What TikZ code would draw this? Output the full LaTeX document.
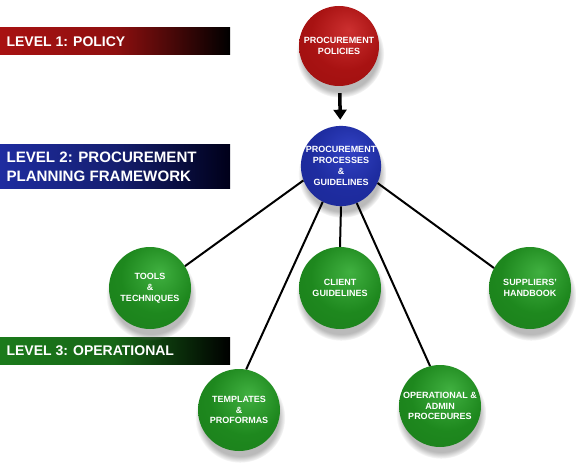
\documentclass[tikz,border=0pt]{standalone}
\usepackage{fontspec}
\setmainfont{Liberation Sans}
\usetikzlibrary{arrows.meta,shadows}
\definecolor{redC}{HTML}{CC3030}
\definecolor{redM}{HTML}{A81212}
\definecolor{redE}{HTML}{5A0000}
\definecolor{bluC}{HTML}{3242C4}
\definecolor{bluM}{HTML}{1E2CA0}
\definecolor{bluE}{HTML}{0C1258}
\definecolor{grnC}{HTML}{40B040}
\definecolor{grnM}{HTML}{1E881E}
\definecolor{grnE}{HTML}{0A400A}
\pgfdeclareradialshading{redball}{\pgfpoint{6bp}{10bp}}{color(0bp)=(redC); color(22bp)=(redM); color(50bp)=(redM!80!redE); color(62bp)=(redE); color(70bp)=(redE)}
\pgfdeclareradialshading{blueball}{\pgfpoint{6bp}{10bp}}{color(0bp)=(bluC); color(22bp)=(bluM); color(50bp)=(bluM!80!bluE); color(62bp)=(bluE); color(70bp)=(bluE)}
\pgfdeclareradialshading{greenball}{\pgfpoint{6bp}{10bp}}{color(0bp)=(grnC); color(22bp)=(grnM); color(50bp)=(grnM!80!grnE); color(62bp)=(grnE); color(70bp)=(grnE)}
\tikzset{
  sphere/.style={circle, minimum size=#1, inner sep=0pt, text=white,
    font=\bfseries\fontsize{9}{10.8}\selectfont, align=center,
    circular drop shadow={shadow xshift=1pt, shadow yshift=-7pt, opacity=0.45, fill=black!60}},
  redsph/.style={sphere=80pt, shading=redball},
  bluesph/.style={sphere=80pt, shading=blueball},
  greensph/.style={sphere=82pt, shading=greenball},
  bantext/.style={text=white, font=\bfseries\fontsize{14}{19}\selectfont, align=left, anchor=west},
  bantextb/.style={text=white, font=\bfseries\fontsize{15.1}{19}\selectfont, align=left, anchor=west},
  link/.style={line width=2pt, draw=black}
}
\begin{document}
\begin{tikzpicture}[x=1pt,y=-1pt]
\useasboundingbox[fill=white] (0,0) rectangle (576,468);
% banners
\shade[left color=redM, right color=black, middle color=redM!85!black] (0,28) rectangle (230,55);
\node[bantext] (l1) at (3,41.5) {LEVEL 1: POLICY};
\shade[left color=bluM, right color=black!90!blue, middle color=bluM!70!black] (0,145) rectangle (230,189);
\node[bantextb] (l2) at (3,167) {LEVEL 2: PROCUREMENT\\PLANNING FRAMEWORK};
\shade[left color=grnM!90!black, right color=black, middle color=grnM!75!black] (0,337) rectangle (230,364);
\node[bantext] (l3) at (3,350.5) {LEVEL 3: OPERATIONAL};
% spheres
\node[redsph] (pol) at (339,46) {PROCUREMENT\\POLICIES};
\node[bluesph] (proc) at (341,166) {PROCUREMENT\\PROCESSES\\\&\\GUIDELINES};
\node[greensph] (tools) at (150,288) {TOOLS\\\&\\TECHNIQUES};
\node[greensph] (client) at (340,288) {CLIENT\\GUIDELINES};
\node[greensph] (supp) at (530,288) {SUPPLIERS'\\HANDBOOK};
\node[greensph] (templ) at (239,410) {TEMPLATES\\\&\\PROFORMAS};
\node[greensph] (oper) at (440,406) {OPERATIONAL \&\\ADMIN\\PROCEDURES};
% connectors
\draw[line width=3.5pt, -{Triangle[width=13pt,length=10pt]}, shorten <=7pt, shorten >=6pt] (pol) -- (proc);
\draw[link] (proc.201) -- (tools.32);
\draw[link] (proc.243) -- (templ.80);
\draw[link] (proc.270) -- (client.90);
\draw[link] (proc.293) -- (oper.104);
\draw[link] (proc.335) -- (supp.151);
\end{tikzpicture}
\end{document}
